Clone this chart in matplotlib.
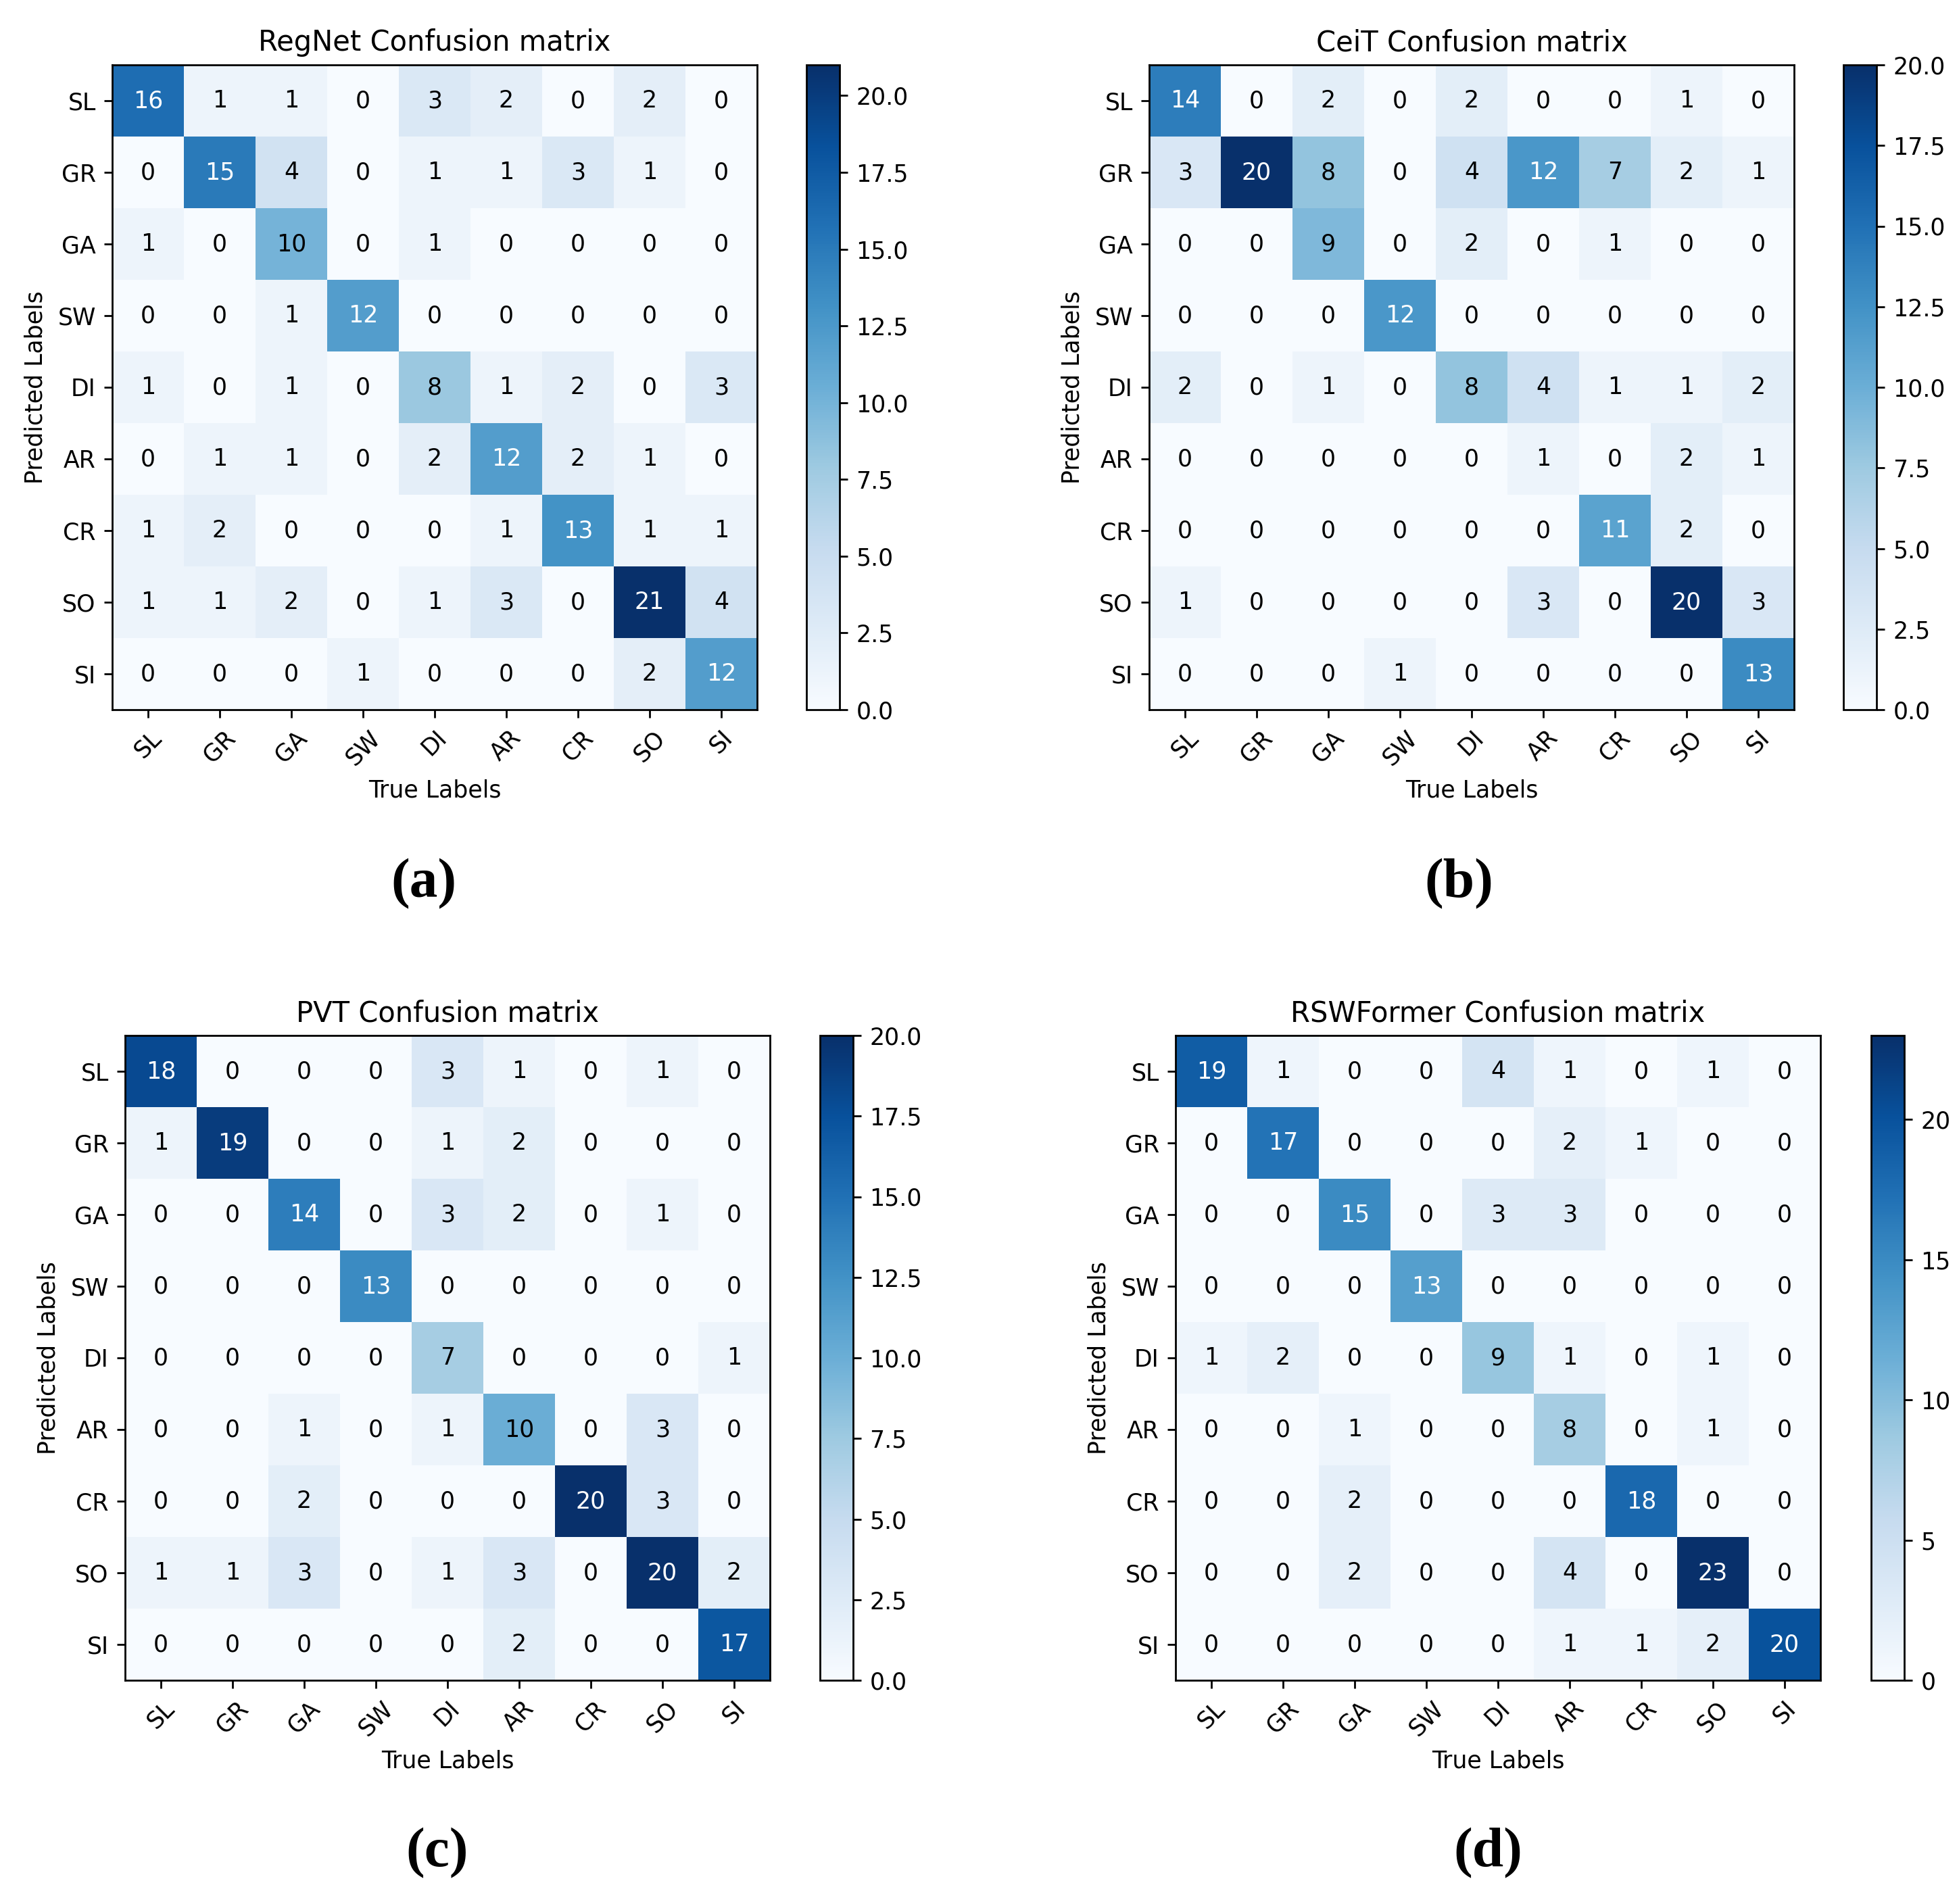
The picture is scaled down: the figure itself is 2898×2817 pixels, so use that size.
import matplotlib
matplotlib.use("Agg")
import matplotlib.pyplot as plt
import numpy as np

# class names (same order on both axes)
classes = ["SL", "GR", "GA", "SW", "DI", "AR", "CR", "SO", "SI"]

# rows = predicted, cols = true
regnet_cm = [
    [16, 1, 1, 0, 3, 2, 0, 2, 0],
    [0, 15, 4, 0, 1, 1, 3, 1, 0],
    [1, 0, 10, 0, 1, 0, 0, 0, 0],
    [0, 0, 1, 12, 0, 0, 0, 0, 0],
    [1, 0, 1, 0, 8, 1, 2, 0, 3],
    [0, 1, 1, 0, 2, 12, 2, 1, 0],
    [1, 2, 0, 0, 0, 1, 13, 1, 1],
    [1, 1, 2, 0, 1, 3, 0, 21, 4],
    [0, 0, 0, 1, 0, 0, 0, 2, 12],
]

ceit_cm = [
    [14, 0, 2, 0, 2, 0, 0, 1, 0],
    [3, 20, 8, 0, 4, 12, 7, 2, 1],
    [0, 0, 9, 0, 2, 0, 1, 0, 0],
    [0, 0, 0, 12, 0, 0, 0, 0, 0],
    [2, 0, 1, 0, 8, 4, 1, 1, 2],
    [0, 0, 0, 0, 0, 1, 0, 2, 1],
    [0, 0, 0, 0, 0, 0, 11, 2, 0],
    [1, 0, 0, 0, 0, 3, 0, 20, 3],
    [0, 0, 0, 1, 0, 0, 0, 0, 13],
]

pvt_cm = [
    [18, 0, 0, 0, 3, 1, 0, 1, 0],
    [1, 19, 0, 0, 1, 2, 0, 0, 0],
    [0, 0, 14, 0, 3, 2, 0, 1, 0],
    [0, 0, 0, 13, 0, 0, 0, 0, 0],
    [0, 0, 0, 0, 7, 0, 0, 0, 1],
    [0, 0, 1, 0, 1, 10, 0, 3, 0],
    [0, 0, 2, 0, 0, 0, 20, 3, 0],
    [1, 1, 3, 0, 1, 3, 0, 20, 2],
    [0, 0, 0, 0, 0, 2, 0, 0, 17],
]

rswformer_cm = [
    [19, 1, 0, 0, 4, 1, 0, 1, 0],
    [0, 17, 0, 0, 0, 2, 1, 0, 0],
    [0, 0, 15, 0, 3, 3, 0, 0, 0],
    [0, 0, 0, 13, 0, 0, 0, 0, 0],
    [1, 2, 0, 0, 9, 1, 0, 1, 0],
    [0, 0, 1, 0, 0, 8, 0, 1, 0],
    [0, 0, 2, 0, 0, 0, 18, 0, 0],
    [0, 0, 2, 0, 0, 4, 0, 23, 0],
    [0, 0, 0, 0, 0, 1, 1, 2, 20],
]

titles = ["RegNet Confusion matrix", "CeiT Confusion matrix",
          "PVT Confusion matrix", "RSWFormer Confusion matrix"]
panel_tags = ["(a)", "(b)", "(c)", "(d)"]

W, H = 2898, 2817
S = 2.5  # everything drawn 2.5x a normal 100 dpi plot

plt.rcParams['font.family'] = ['DejaVu Sans']
plt.rcParams['axes.linewidth'] = 0.8 * S
plt.rcParams['xtick.major.width'] = 0.8 * S
plt.rcParams['ytick.major.width'] = 0.8 * S
plt.rcParams['xtick.major.size'] = 3.5 * S
plt.rcParams['ytick.major.size'] = 3.5 * S
plt.rcParams['xtick.major.pad'] = 3.5 * S
plt.rcParams['ytick.major.pad'] = 3.5 * S

fig = plt.figure(figsize=(W / 100, H / 100), dpi=100)


def box(x0, y0, w, h):
    # pixel box (top-left origin) -> figure fraction
    return [x0 / W, 1 - (y0 + h) / H, w / W, h / H]


# pixel layout: (axes x, axes y, colorbar x, tag x, tag y)
layout = [
    (166, 96, 1193, 627, 1308),
    (1700, 96, 2727, 2158, 1308),
    (185, 1532, 1213, 647, 2742),
    (1739, 1532, 2768, 2201, 2742),
]
side = 954
cb_w = 49


def plot_cm(cm, title, pos, tag):
    cm = np.array(cm)
    ax_x, ax_y, cb_x, tx, ty = pos
    ax = fig.add_axes(box(ax_x, ax_y, side, side))
    im = ax.imshow(cm, interpolation='nearest', cmap=plt.cm.Blues, aspect='auto')
    ax.set_title(title, fontsize=12 * S, pad=6 * S)

    cax = fig.add_axes(box(cb_x, ax_y, cb_w, side))
    cb = fig.colorbar(im, cax=cax)
    cb.ax.tick_params(labelsize=10 * S, width=0.8 * S, length=3.5 * S)
    cb.outline.set_linewidth(0.8 * S)

    ticks = np.arange(len(classes))
    ax.set_xticks(ticks)
    ax.set_xticklabels(classes, rotation=45, fontsize=10 * S)
    ax.set_yticks(ticks)
    ax.set_yticklabels(classes, fontsize=10 * S)

    thresh = cm.max() / 2.
    for i in range(cm.shape[0]):
        for j in range(cm.shape[1]):
            ax.text(j, i, format(cm[i, j], 'd'), ha="center", va="center",
                    fontsize=10 * S,
                    color="white" if cm[i, j] > thresh else "black")

    ax.set_ylabel('Predicted Labels', fontsize=10 * S, labelpad=11.5)
    ax.set_xlabel('True Labels', fontsize=10 * S, labelpad=10.5)

    fig.text(tx / W, 1 - ty / H, tag, ha='center', va='center',
             fontsize=60, fontweight='bold', family='Liberation Serif')


all_cms = [regnet_cm, ceit_cm, pvt_cm, rswformer_cm]
for k in range(4):
    plot_cm(all_cms[k], titles[k], layout[k], panel_tags[k])

fig.savefig('out.png', dpi=100, facecolor='white')
